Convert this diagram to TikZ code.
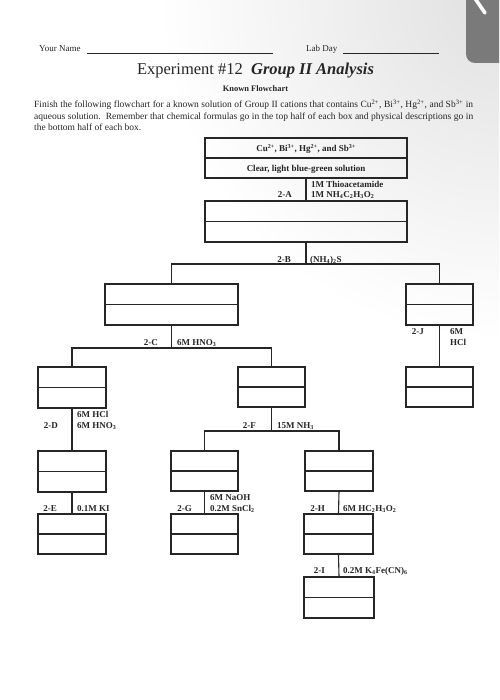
\documentclass[tikz,border=0pt]{standalone}
\usepackage{fontspec}
\setmainfont{Liberation Serif}
\definecolor{ink}{HTML}{262626}
\definecolor{tabgray}{HTML}{7A7A7A}
\newcommand\chsub[1]{\textsubscript{#1}}
\newcommand\chsup[1]{\textsuperscript{#1}}
\tikzset{
  bx/.style={draw=ink, line width=1.3pt, minimum width=#1, minimum height=41pt, inner sep=0pt},
  lab/.style={font=\fontsize{9}{10}\selectfont\bfseries, text=ink, inner sep=0pt},
  ll/.style={lab, anchor=base east},
  rl/.style={lab, anchor=base west},
  cn/.style={draw=ink, line width=1.1pt},
  hdr/.style={font=\fontsize{9}{10}\selectfont, text=ink, inner sep=0pt, anchor=base west},
  para/.style={font=\fontsize{9.5}{11}\selectfont, text=ink, inner sep=0pt, anchor=base west}
}
\newcommand\midline[1]{\draw[ink, line width=1.3pt] (#1.west) -- (#1.east);}
\begin{document}
\begin{tikzpicture}[x=1pt, y=-1pt]
\useasboundingbox (0,0) rectangle (499,700);
\begin{scope}
\clip (0,0) rectangle (499,700);
\fill[white] (0,0) rectangle (499,700);
\shade[inner color=gray!24, outer color=white] (499,0) circle (340);
\fill[tabgray, rounded corners=9pt] (466,-20) -- (466,63) -- (520,63) -- (520,-20) -- cycle;
\draw[white, line width=3.6pt, line cap=round] (474,-3) -- (485,13);
\end{scope}

% header
\node[hdr] (yn) at (39,52) {Your Name};
\draw[ink, line width=0.6pt] (87,53) -- (273,53);
\node[hdr] (ld) at (306,52) {Lab Day};
\draw[ink, line width=0.6pt] (343,53) -- (439,53);
\node[anchor=base, inner sep=0pt, text=ink] (title) at (255.5,75)
  {\fontsize{16.5}{18}\selectfont Experiment \#12\ \ \textbf{\textit{Group II Analysis}}};
\node[anchor=base, inner sep=0pt, text=ink] (kf) at (255.5,92)
  {\fontsize{8.4}{10}\selectfont\bfseries Known Flowchart};
\node[para] (p1) at (34,108) {\makebox[439pt][s]{Finish the following flowchart for a known solution of Group II cations that contains Cu\chsup{2+}, Bi\chsup{3+}, Hg\chsup{2+}, and Sb\chsup{3+} in}};
\node[para] (p2) at (34,119.5) {\makebox[439pt][s]{aqueous solution.\ \ Remember that chemical formulas go in the top half of each box and physical descriptions go in}};
\node[para] (p3) at (34,131) {the bottom half of each box.};

% boxes
\node[bx=202pt, minimum height=40pt] (top) at (306,158) {}; \midline{top}
\node[lab, anchor=base] (t1) at (306,152) {Cu\chsup{2+}, Bi\chsup{3+}, Hg\chsup{2+}, and Sb\chsup{3+}};
\node[lab, anchor=base] (t2) at (306,171.5) {Clear, light blue-green solution};
\node[bx=202pt] (a1) at (306,221.5) {}; \midline{a1}
\node[bx=133pt] (c1) at (171.5,304.5) {}; \midline{c1}
\node[bx=67pt] (j1) at (439.5,304.5) {}; \midline{j1}
\node[bx=68pt] (d1) at (72,387.5) {}; \midline{d1}
\node[bx=67pt, minimum height=40pt] (f1) at (271.5,387) {}; \midline{f1}
\node[bx=67pt, minimum height=40pt] (j2) at (439.5,387) {}; \midline{j2}
\node[bx=68pt] (e1) at (72,471.5) {}; \midline{e1}
\node[bx=67pt, minimum height=40pt] (g1) at (204.5,471) {}; \midline{g1}
\node[bx=68pt, minimum height=40pt] (h1) at (339,471) {}; \midline{h1}
\node[bx=68pt, minimum height=40pt] (e2) at (72,534) {}; \midline{e2}
\node[bx=67pt, minimum height=40pt] (g2) at (204.5,534) {}; \midline{g2}
\node[bx=69pt, minimum height=40pt] (h2) at (338.5,534) {}; \midline{h2}
\node[bx=70pt] (i2) at (339,597.5) {}; \midline{i2}

% junctions
\coordinate (jB) at (305,264);
\coordinate (jC) at (171.5,348);
\coordinate (jF) at (271.5,431);

% connectors
\draw[cn] (top.south) -- (a1.north);
\draw[cn] (a1.south) -- (a1.south |- jB);
\draw[cn] (c1.north) -- (c1.north |- jB) -- (j1.north |- jB) -- (j1.north);
\draw[cn] (c1.south) -- (jC);
\draw[cn] (d1.north) -- (d1.north |- jC) -- (f1.north |- jC) -- (f1.north);
\draw[cn] (j1.south) -- (j2.north);
\draw[cn] (d1.south) -- (e1.north);
\draw[cn] (e1.south) -- (e2.north);
\draw[cn] (f1.south) -- (jF);
\draw[cn] (g1.north) -- (g1.north |- jF) -- (h1.north |- jF) -- (h1.north);
\draw[cn] (g1.south) -- (g2.north);
\draw[cn] (h1.south) -- (h2.north);
\draw[cn] (h2.south) -- (i2.north);

% labels
\node[ll] (lA) at (292,198) {2-A};
\node[rl] (rA1) at (311,188) {1M Thioacetamide};
\node[rl] (rA2) at (311,198) {1M NH\chsub{4}C\chsub{2}H\chsub{3}O\chsub{2}};
\node[ll] (lB) at (291,262) {2-B};
\node[rl] (rB) at (310,262) {(NH\chsub{4})\chsub{2}S};
\node[ll] (lC) at (158,345) {2-C};
\node[rl] (rC) at (177,345) {6M HNO\chsub{3}};
\node[ll] (lJ) at (424,334) {2-J};
\node[rl] (rJ1) at (450,334) {6M};
\node[rl] (rJ2) at (450,345) {HCl};
\node[ll] (lD) at (58,428) {2-D};
\node[rl] (rD1) at (77,417) {6M HCl};
\node[rl] (rD2) at (77,428) {6M HNO\chsub{3}};
\node[ll] (lF) at (256,428) {2-F};
\node[rl] (rF) at (277,428) {15M NH\chsub{3}};
\node[ll] (lE) at (57,511.5) {2-E};
\node[rl] (rE) at (77,511.5) {0.1M KI};
\node[ll] (lG) at (192,511) {2-G};
\node[rl] (rG1) at (210,500.5) {6M NaOH};
\node[rl] (rG2) at (210,511) {0.2M SnCl\chsub{2}};
\node[ll] (lH) at (325,511) {2-H};
\node[rl] (rH) at (343,511) {6M HC\chsub{2}H\chsub{3}O\chsub{2}};
\node[ll] (lI) at (325,573.5) {2-I};
\node[rl] (rI) at (343,573.5) {0.2M K\chsub{4}Fe(CN)\chsub{6}};
\end{tikzpicture}
\end{document}
